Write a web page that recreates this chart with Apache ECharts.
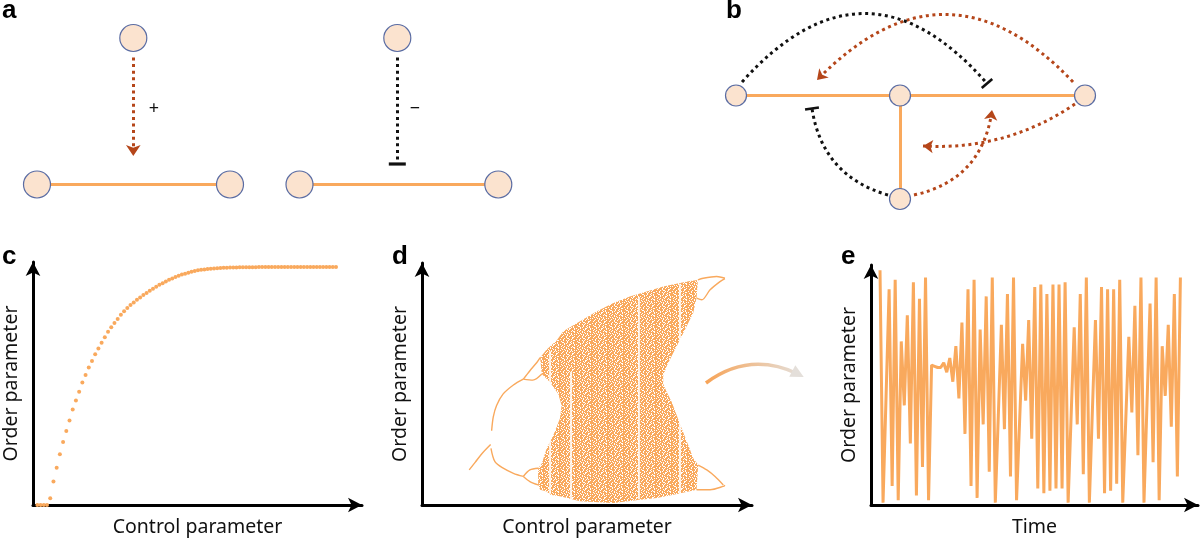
<!DOCTYPE html>
<html>
<head>
<meta charset="utf-8">
<style>
  html, body { margin: 0; padding: 0; background: #fff; }
  #chart { width: 1200px; height: 538px; }
</style>
<script src="https://cdn.jsdelivr.net/npm/echarts@6.0.0/dist/echarts.min.js"></script>
</head>
<body>
<div id="chart"></div>
<script>
const ORANGE = '#f9a95d';
const BROWN = '#b5461a';
const INK = '#111111';
const FONT = '"Noto Sans", sans-serif';

// ---- panels a, b: schematic space, 1 unit = 10 px ----
const motifNodesA = [[13.33, 3.8], [3.7, 18.45], [23.0, 18.45], [39.73, 3.8], [29.95, 18.45], [49.83, 18.45]];
const motifNodesB = [[73.6, 9.55], [90.0, 9.55], [108.5, 9.55], [90.0, 19.9]];
const backbone = [
  [[3.7, 18.45], [23.0, 18.45]],
  [[29.95, 18.45], [49.83, 18.45]],
  [[73.6, 9.55], [108.5, 9.55]],
  [[90.0, 9.55], [90.0, 19.9]]
];
// [from, to, curveness, symbol size]
const activations = [
  [[13.33, 5.75], [13.33, 15.6], 0, 11],
  [[107.3, 8.2], [81.7, 8.0], -0.52, 10],
  [[107.5, 10.4], [92.3, 14.6], 0.17, 10],
  [[91.4, 19.5], [99.2, 11.0], -0.35, 10]
];
const inhibitions = [
  [[39.73, 5.75], [39.73, 16.4], 0, 17],
  [[74.2, 8.2], [98.7, 8.35], 0.565, 14],
  [[88.8, 19.5], [81.2, 10.85], 0.32, 14]
];
const signs = [[15.4, 10.9, '+'], [41.5, 10.9, '\u2212']];
// curved arrow from d to e: [from, to, curveness]
const transition = [[70.6, 38.3], [79.8, 37.4], 0.3];

// ---- panel c: order parameter at evenly spaced control values ----
const cOrder = [
  0, 0, 0, 0,
  0.028, 0.099, 0.157, 0.213, 0.265, 0.311, 0.355, 0.401, 0.439, 0.476, 0.515, 0.546, 0.578,
  0.605, 0.633, 0.658, 0.682, 0.705, 0.728, 0.747, 0.765, 0.782, 0.799, 0.814, 0.828,
  0.840, 0.851, 0.862, 0.872, 0.882, 0.891, 0.900, 0.909, 0.917, 0.925, 0.932, 0.939, 0.946,
  0.952, 0.958, 0.963, 0.968, 0.972, 0.976, 0.980, 0.983, 0.986, 0.988, 0.990, 0.992, 0.993,
  0.994, 0.995, 0.996, 0.997, 0.997, 0.998,
  0.998, 0.998, 0.999, 0.999, 0.999, 0.999, 0.999, 0.999,
  1, 1, 1, 1, 1, 1, 1, 1, 1, 1, 1, 1, 1, 1, 1, 1, 1, 1, 1, 1, 1, 1, 1, 1, 1
];

// ---- panel d: bifurcation diagram (control 0-100, order 0-100) ----
const chaosBand = [
  [35.8, 60.9], [37.8, 64.3], [40.8, 68.0], [42.8, 71.8], [47.9, 75.9], [52.9, 80.0],
  [58.0, 83.5], [63.0, 86.2], [68.1, 88.2], [73.1, 90.3], [78.2, 91.7], [81.2, 92.6],
  [83.6, 93.0], [83.2, 85.5], [82.2, 79.4], [80.2, 73.9], [78.2, 68.4], [76.2, 63.0],
  [74.2, 57.5], [73.1, 53.4], [73.1, 50.0], [74.2, 46.6], [75.7, 42.5], [77.2, 37.0],
  [78.7, 31.6], [80.7, 24.7], [82.2, 19.3], [83.7, 16.5], [83.2, 6.3], [76.2, 4.2],
  [71.1, 2.9], [66.1, 2.2], [58.0, 0.8], [47.9, 1.5], [41.8, 3.6], [38.8, 4.2],
  [37.8, 5.6], [35.8, 6.3], [35.2, 8.3], [35.2, 15.2], [36.3, 17.2], [37.8, 23.4],
  [39.8, 28.8], [41.8, 35.7], [42.3, 41.1], [41.3, 45.9], [38.8, 50.7], [36.3, 54.1]
];
const bifBranches = [
  [[14.3, 14.5], [16.1, 17.6], [18.2, 21.3], [20.8, 25.0]],
  [[21.1, 30.7], [21.6, 36.4], [22.6, 41.1], [24.6, 45.9], [27.7, 49.6], [30.7, 52.0]],
  [[20.9, 23.4], [22.1, 17.9], [24.6, 15.2], [27.7, 13.1], [30.7, 11.8]],
  [[30.7, 52.0], [32.7, 55.5], [34.8, 58.9], [35.8, 60.9]],
  [[30.7, 52.0], [33.6, 51.6], [36.3, 54.1]],
  [[30.7, 11.8], [32.7, 14.5], [35.2, 15.2]],
  [[30.7, 11.8], [32.7, 9.7], [35.2, 8.3]],
  [[83.6, 93.0], [85.2, 93.7], [89.3, 94.4], [91.8, 93.7]],
  [[83.2, 85.5], [84.8, 84.8], [87.3, 88.9], [90.3, 92.3], [91.8, 93.5]],
  [[83.7, 16.5], [86.3, 14.5], [88.8, 11.8], [91.3, 8.3]],
  [[83.2, 6.3], [87.3, 6.3], [91.3, 7.7], [91.8, 8.2]]
];
// periodic windows: [control, low, high]
const windows = [[38.8, 4.4, 63.5], [45.2, 1.8, 55], [65.8, 2.4, 86], [78.0, 4.4, 91.4]];

// ---- panel e: chaotic time series ----
const eOrder = [
  0.99, 0.01, 0.46, 0.91, 0.08, 0.95, 0.02, 0.69, 0.42, 0.80,
  0.26, 0.94, 0.04, 0.87, 0.16, 0.96, 0.02, 0.59, 0.585, 0.58,
  0.58, 0.60, 0.56, 0.62, 0.52, 0.67, 0.45, 0.77, 0.30, 0.91,
  0.08, 0.95, 0.03, 0.74, 0.34, 0.88, 0.14, 0.96, 0.01, 0.38,
  0.76, 0.32, 0.89, 0.12, 0.96, 0.02, 0.35, 0.68, 0.44, 0.78,
  0.28, 0.92, 0.07, 0.93, 0.05, 0.89, 0.06, 0.93, 0.07, 0.93,
  0.07, 0.94, 0.01, 0.38, 0.75, 0.34, 0.89, 0.13, 0.96, 0.01,
  0.40, 0.78, 0.28, 0.92, 0.05, 0.91, 0.06, 0.91, 0.09, 0.95,
  0.01, 0.36, 0.71, 0.39, 0.84, 0.21, 0.96, 0.01, 0.43, 0.85,
  0.18, 0.96, 0.02, 0.67, 0.46, 0.76, 0.33, 0.89, 0.12, 0.96
];

const TBAR = 'path://M0,0M16,16M0,6.5L16,6.5L16,9.5L0,9.5Z';

// speckled fill for the chaotic band
function speckle () {
  const rows = [
    '##.###.##.####.#', '#.####.#####..##', '####.##..###.###', '.##.#####.#.####',
    '###.##.#.####..#', '#.#####.###.####', '##..###.##.##.##', '####.#.####.#.##',
    '.###.####..###.#', '##.####.#.####.#', '#.##.###.###.###', '###.##.####.#..#',
    '#.####.#.#####.#', '##.#.####.#.####', '.####.#.###.##.#', '###.###.##.#.###'
  ];
  const cv = document.createElement('canvas');
  cv.width = 16; cv.height = 16;
  const ctx = cv.getContext('2d');
  ctx.fillStyle = '#fff';
  ctx.fillRect(0, 0, 16, 16);
  ctx.fillStyle = ORANGE;
  rows.forEach((r, y) => r.split('').forEach((ch, x) => { if (ch === '#') ctx.fillRect(x, y, 1, 1); }));
  return { image: cv, repeat: 'repeat' };
}

// arrowhead rotation at the end of a quadratic curve (overlay units are square)
function endRotation (from, to, c) {
  const cx = (from[0] + to[0]) / 2 + (from[1] - to[1]) * c;
  const cy = (from[1] + to[1]) / 2 - (to[0] - from[0]) * c;
  const ang = Math.atan2(-(to[1] - cy), to[0] - cx) * 180 / Math.PI;
  return ang - 90;
}

function linkData (list, color, symbol) {
  return list.map(l => ({
    coords: [l[0], l[1]],
    symbol: ['none', symbol],
    symbolSize: l[3],
    lineStyle: { color: color, curveness: l[2] }
  }));
}

function panelAxes (grid, name, xMin, xMax, yMax, yName) {
  const line = {
    show: true, onZero: false, symbol: ['none', 'arrow'], symbolSize: [11, 14],
    lineStyle: { color: '#000', width: 3 }
  };
  const nameStyle = { fontFamily: FONT, fontSize: 19.5, color: INK };
  return {
    x: {
      gridIndex: grid, type: 'value', min: xMin, max: xMax,
      axisLine: line, axisTick: { show: false }, axisLabel: { show: false }, splitLine: { show: false },
      name: name, nameLocation: 'middle', nameGap: 12, nameTextStyle: nameStyle
    },
    y: {
      gridIndex: grid, type: 'value', min: 0, max: yMax,
      axisLine: line, axisTick: { show: false }, axisLabel: { show: false }, splitLine: { show: false },
      name: yName, nameLocation: 'middle', nameRotate: 90, nameGap: 12, nameTextStyle: nameStyle
    }
  };
}

const axC = panelAxes(1, 'Control parameter', -1.37, 101.1, 1.021, 'Order parameter');
const axD = panelAxes(2, 'Control parameter', 0, 100, 100, 'Order parameter');
const axE = panelAxes(3, 'Time', -2.97, 104.8, 1.0125, 'Order parameter');

const letter = (t, left, top) => ({
  text: t, left: left, top: top, padding: 0,
  textStyle: { fontFamily: '"Liberation Sans", Arial, sans-serif', fontWeight: 'bold', fontSize: 26, color: '#000' }
});

const chart = echarts.init(document.getElementById('chart'), null, { renderer: 'canvas' });
const fill = speckle();
const nodeStyle = { color: '#fbe3cf', borderColor: '#5a6ca3', borderWidth: 1.2, opacity: 1 };

const option = {
  animation: false,
  backgroundColor: '#fff',
  title: [letter('a', 2, -2), letter('b', 726, -2), letter('c', 2, 244), letter('d', 392, 244), letter('e', 841, 244)],
  grid: [
    { left: 0, top: 0, width: 1200, height: 538 },
    { left: 32, top: 262, width: 330, height: 245 },
    { left: 422, top: 263, width: 330, height: 244 },
    { left: 871, top: 265, width: 327, height: 243 }
  ],
  xAxis: [
    { gridIndex: 0, type: 'value', min: 0, max: 120, show: false },
    axC.x, axD.x, axE.x
  ],
  yAxis: [
    { gridIndex: 0, type: 'value', min: 0, max: 53.8, inverse: true, show: false },
    axC.y, axD.y, axE.y
  ],
  series: [
    // schematic backbone edges
    {
      type: 'lines', coordinateSystem: 'cartesian2d', xAxisIndex: 0, yAxisIndex: 0, silent: true,
      lineStyle: { color: ORANGE, width: 3, opacity: 1 },
      data: backbone.map(b => ({ coords: b }))
    },
    {
      type: 'lines', coordinateSystem: 'cartesian2d', xAxisIndex: 0, yAxisIndex: 0, silent: true,
      lineStyle: { width: 3, type: [3, 3.6], opacity: 1 },
      data: linkData(activations, BROWN, 'arrow')
    },
    {
      type: 'lines', coordinateSystem: 'cartesian2d', xAxisIndex: 0, yAxisIndex: 0, silent: true,
      lineStyle: { width: 3, type: [3, 3.6], opacity: 1 },
      data: linkData(inhibitions, INK, TBAR)
    },
    {
      type: 'scatter', xAxisIndex: 0, yAxisIndex: 0, silent: true, symbolSize: 27, z: 5,
      itemStyle: nodeStyle, data: motifNodesA
    },
    {
      type: 'scatter', xAxisIndex: 0, yAxisIndex: 0, silent: true, symbolSize: 21, z: 5,
      itemStyle: nodeStyle, data: motifNodesB
    },
    {
      type: 'scatter', xAxisIndex: 0, yAxisIndex: 0, silent: true, symbolSize: 1,
      itemStyle: { opacity: 0 },
      label: {
        show: true, position: 'inside', formatter: p => p.value[2],
        fontFamily: FONT, fontSize: 18, color: INK, opacity: 1
      },
      data: signs
    },
    // d -> e curved arrow
    {
      type: 'lines', coordinateSystem: 'cartesian2d', xAxisIndex: 0, yAxisIndex: 0, silent: true,
      lineStyle: {
        width: 3.5, opacity: 1, curveness: transition[2],
        color: new echarts.graphic.LinearGradient(0, 0, 1, 0, [
          { offset: 0, color: '#f7a254' }, { offset: 1, color: '#e4dfda' }
        ])
      },
      data: [{ coords: [transition[0], transition[1]] }]
    },
    {
      type: 'scatter', xAxisIndex: 0, yAxisIndex: 0, silent: true, symbol: 'triangle', symbolSize: [13, 13],
      symbolRotate: endRotation(transition[0], transition[1], transition[2]),
      itemStyle: { color: '#e4dfda', opacity: 1 },
      data: [transition[1]]
    },
    // panel c
    {
      type: 'scatter', xAxisIndex: 1, yAxisIndex: 1, silent: true, symbolSize: 4,
      itemStyle: { color: ORANGE, opacity: 1 },
      data: cOrder.map((v, i) => [i, v])
    },
    // panel d
    {
      type: 'custom', xAxisIndex: 2, yAxisIndex: 2, silent: true,
      data: [[50, 50]],
      renderItem: function (params, api) {
        return {
          type: 'polygon',
          shape: { points: chaosBand.map(p => api.coord(p)) },
          style: { fill: fill }
        };
      }
    },
    {
      type: 'lines', coordinateSystem: 'cartesian2d', xAxisIndex: 2, yAxisIndex: 2, silent: true,
      lineStyle: { color: '#fff', width: 1.6, opacity: 1 },
      data: windows.map(w => ({ coords: [[w[0], w[1]], [w[0], w[2]]] }))
    }
  ].concat(bifBranches.map(b => ({
    type: 'line', xAxisIndex: 2, yAxisIndex: 2, silent: true, showSymbol: false, smooth: 0.3,
    lineStyle: { color: ORANGE, width: 1.4 },
    data: b
  }))).concat([
    // panel e
    {
      type: 'line', xAxisIndex: 3, yAxisIndex: 3, silent: true, showSymbol: false,
      lineStyle: { color: ORANGE, width: 3 },
      data: eOrder.map((v, i) => [i, v])
    }
  ])
};

chart.setOption(option);
window.addEventListener('resize', () => chart.resize());
</script>
</body>
</html>
